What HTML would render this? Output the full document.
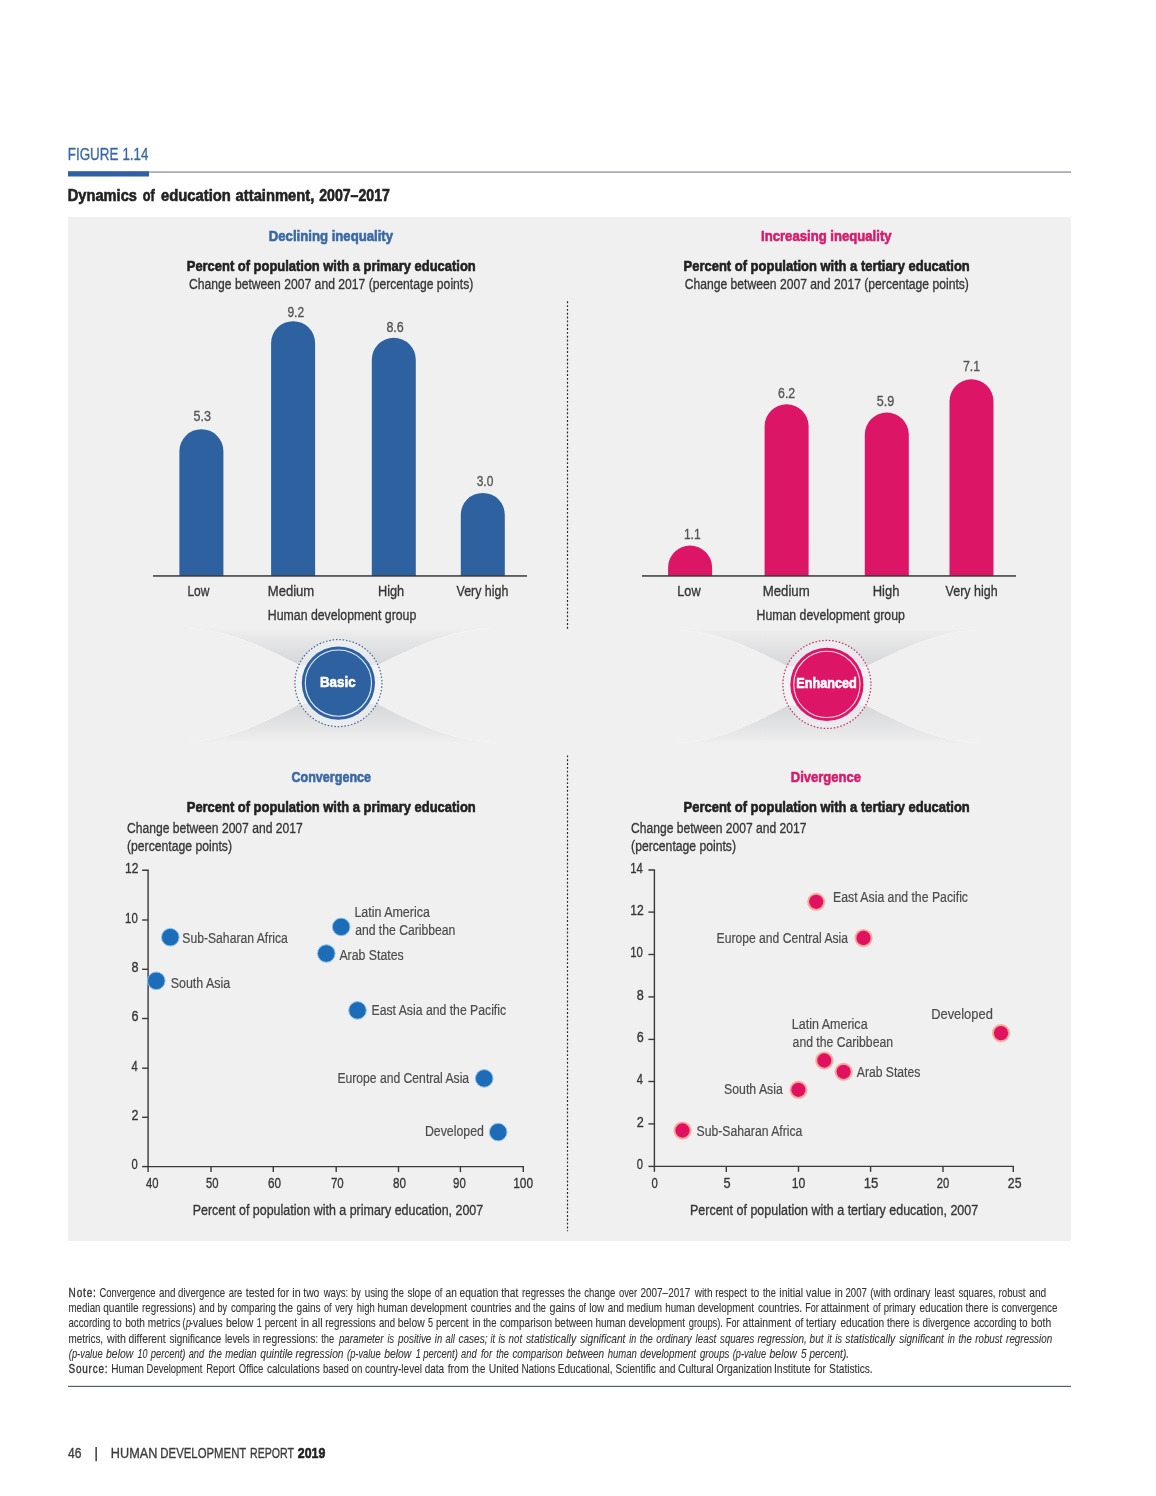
<!DOCTYPE html>
<html lang="en">
<head>
<meta charset="utf-8">
<title>Figure 1.14 - Dynamics of education attainment, 2007-2017</title>
<style>
html,body{margin:0;padding:0;background:#ffffff;}
body{width:1156px;height:1496px;overflow:hidden;}
svg{display:block;font-family:'Liberation Sans', Arial, sans-serif;}
text{white-space:pre;}
</style>
</head>
<body>
<svg width="1156" height="1496" viewBox="0 0 1156 1496">
<rect x="0" y="0" width="1156" height="1496" fill="#ffffff"/>
<text x="67.83" y="160.10" font-size="17.4" fill="#3a69a6" stroke="#3a69a6" stroke-width="0.34" textLength="50.53" lengthAdjust="spacingAndGlyphs">FIGURE</text>
<text x="122.43" y="160.10" font-size="17.4" fill="#3a69a6" stroke="#3a69a6" stroke-width="0.34" textLength="25.91" lengthAdjust="spacingAndGlyphs">1.14</text>
<rect x="68" y="171.3" width="1003" height="1.6" fill="#9fa5b1"/>
<rect x="68" y="171.3" width="81" height="5.2" fill="#2e619f"/>
<text x="67.79" y="200.90" font-size="16.1" fill="#222222" font-weight="700" stroke="#222222" stroke-width="0.6" textLength="69.16" lengthAdjust="spacingAndGlyphs">Dynamics</text>
<text x="142.70" y="200.90" font-size="16.1" fill="#222222" font-weight="700" stroke="#222222" stroke-width="0.6" textLength="11.99" lengthAdjust="spacingAndGlyphs">of</text>
<text x="160.90" y="200.90" font-size="16.1" fill="#222222" font-weight="700" stroke="#222222" stroke-width="0.6" textLength="69.96" lengthAdjust="spacingAndGlyphs">education</text>
<text x="235.60" y="200.90" font-size="16.1" fill="#222222" font-weight="700" stroke="#222222" stroke-width="0.6" textLength="78.73" lengthAdjust="spacingAndGlyphs">attainment,</text>
<text x="319.20" y="200.90" font-size="16.1" fill="#222222" font-weight="700" stroke="#222222" stroke-width="0.6" textLength="70.66" lengthAdjust="spacingAndGlyphs">2007–2017</text>
<rect x="68" y="217" width="1003" height="1024" fill="#f0f0f0"/>
<line x1="567.5" y1="301.3" x2="567.5" y2="628.9" stroke="#2a2a2a" stroke-width="1.2" stroke-dasharray="1.9 1.93"/>
<line x1="567.5" y1="755.4" x2="567.5" y2="1231.2" stroke="#2a2a2a" stroke-width="1.2" stroke-dasharray="1.9 1.93"/>
<text x="268.75" y="241.30" font-size="15.5" fill="#3a69a6" font-weight="700" stroke="#3a69a6" stroke-width="0.62" textLength="124.33" lengthAdjust="spacingAndGlyphs">Declining inequality</text>
<text x="761.05" y="241.30" font-size="15.5" fill="#d81b6c" font-weight="700" stroke="#d81b6c" stroke-width="0.62" textLength="130.53" lengthAdjust="spacingAndGlyphs">Increasing inequality</text>
<text x="186.77" y="271.00" font-size="15.5" fill="#222222" font-weight="700" stroke="#222222" stroke-width="0.62" textLength="288.93" lengthAdjust="spacingAndGlyphs">Percent of population with a primary education</text>
<text x="683.56" y="271.00" font-size="15.5" fill="#222222" font-weight="700" stroke="#222222" stroke-width="0.62" textLength="286.23" lengthAdjust="spacingAndGlyphs">Percent of population with a tertiary education</text>
<text x="189.00" y="289.20" font-size="15.5" fill="#363636" stroke="#363636" stroke-width="0.34" textLength="284.33" lengthAdjust="spacingAndGlyphs">Change between 2007 and 2017 (percentage points)</text>
<text x="684.70" y="289.20" font-size="15.5" fill="#363636" stroke="#363636" stroke-width="0.34" textLength="284.23" lengthAdjust="spacingAndGlyphs">Change between 2007 and 2017 (percentage points)</text>
<path d="M179.40,576.0 V451.19 A22.0,22.0 0 0 1 223.40,451.19 V576.0 Z" fill="#2e619f"/>
<path d="M271.10,576.0 V343.16 A22.0,22.0 0 0 1 315.10,343.16 V576.0 Z" fill="#2e619f"/>
<path d="M371.80,576.0 V359.78 A22.0,22.0 0 0 1 415.80,359.78 V576.0 Z" fill="#2e619f"/>
<path d="M460.80,576.0 V514.90 A22.0,22.0 0 0 1 504.80,514.90 V576.0 Z" fill="#2e619f"/>
<path d="M668.10,576.0 V567.53 A22.0,22.0 0 0 1 712.10,567.53 V576.0 Z" fill="#dc1566"/>
<path d="M764.60,576.0 V426.26 A22.0,22.0 0 0 1 808.60,426.26 V576.0 Z" fill="#dc1566"/>
<path d="M864.80,576.0 V434.57 A22.0,22.0 0 0 1 908.80,434.57 V576.0 Z" fill="#dc1566"/>
<path d="M949.50,576.0 V401.33 A22.0,22.0 0 0 1 993.50,401.33 V576.0 Z" fill="#dc1566"/>
<rect x="153" y="575.2" width="374" height="1.5" fill="#3a3a3a"/>
<rect x="642" y="575.2" width="374" height="1.5" fill="#3a3a3a"/>
<text x="193.60" y="421.10" font-size="15.5" fill="#555555" stroke="#555555" stroke-width="0.34" textLength="17.50" lengthAdjust="spacingAndGlyphs">5.3</text>
<text x="287.40" y="317.30" font-size="15.5" fill="#555555" stroke="#555555" stroke-width="0.34" textLength="16.78" lengthAdjust="spacingAndGlyphs">9.2</text>
<text x="386.40" y="332.20" font-size="15.5" fill="#555555" stroke="#555555" stroke-width="0.34" textLength="17.40" lengthAdjust="spacingAndGlyphs">8.6</text>
<text x="476.70" y="485.70" font-size="15.5" fill="#555555" stroke="#555555" stroke-width="0.34" textLength="16.61" lengthAdjust="spacingAndGlyphs">3.0</text>
<text x="683.92" y="539.30" font-size="15.5" fill="#555555" stroke="#555555" stroke-width="0.34" textLength="16.76" lengthAdjust="spacingAndGlyphs">1.1</text>
<text x="778.10" y="398.00" font-size="15.5" fill="#555555" stroke="#555555" stroke-width="0.34" textLength="17.09" lengthAdjust="spacingAndGlyphs">6.2</text>
<text x="876.70" y="406.30" font-size="15.5" fill="#555555" stroke="#555555" stroke-width="0.34" textLength="17.50" lengthAdjust="spacingAndGlyphs">5.9</text>
<text x="962.90" y="371.40" font-size="15.5" fill="#555555" stroke="#555555" stroke-width="0.34" textLength="17.09" lengthAdjust="spacingAndGlyphs">7.1</text>
<text x="187.42" y="596.00" font-size="15.5" fill="#363636" stroke="#363636" stroke-width="0.34" textLength="22.05" lengthAdjust="spacingAndGlyphs">Low</text>
<text x="267.76" y="596.00" font-size="15.5" fill="#363636" stroke="#363636" stroke-width="0.34" textLength="46.51" lengthAdjust="spacingAndGlyphs">Medium</text>
<text x="377.98" y="596.00" font-size="15.5" fill="#363636" stroke="#363636" stroke-width="0.34" textLength="26.23" lengthAdjust="spacingAndGlyphs">High</text>
<text x="456.60" y="596.00" font-size="15.5" fill="#363636" stroke="#363636" stroke-width="0.34" textLength="51.70" lengthAdjust="spacingAndGlyphs">Very high</text>
<text x="677.28" y="596.00" font-size="15.5" fill="#363636" stroke="#363636" stroke-width="0.34" textLength="23.36" lengthAdjust="spacingAndGlyphs">Low</text>
<text x="762.75" y="596.00" font-size="15.5" fill="#363636" stroke="#363636" stroke-width="0.34" textLength="46.93" lengthAdjust="spacingAndGlyphs">Medium</text>
<text x="872.76" y="596.00" font-size="15.5" fill="#363636" stroke="#363636" stroke-width="0.34" textLength="26.65" lengthAdjust="spacingAndGlyphs">High</text>
<text x="945.60" y="596.00" font-size="15.5" fill="#363636" stroke="#363636" stroke-width="0.34" textLength="52.00" lengthAdjust="spacingAndGlyphs">Very high</text>
<text x="267.81" y="620.00" font-size="15.5" fill="#363636" stroke="#363636" stroke-width="0.34" textLength="148.49" lengthAdjust="spacingAndGlyphs">Human development group</text>
<text x="756.51" y="620.00" font-size="15.5" fill="#363636" stroke="#363636" stroke-width="0.34" textLength="148.39" lengthAdjust="spacingAndGlyphs">Human development group</text>
<defs>
<linearGradient id="shT" x1="0" y1="-55" x2="0" y2="-17" gradientUnits="userSpaceOnUse">
<stop offset="0" stop-color="#d5d6d9" stop-opacity="0.04"/>
<stop offset="0.3" stop-color="#d5d6d9" stop-opacity="0.36"/>
<stop offset="1" stop-color="#d5d6d9" stop-opacity="1"/>
</linearGradient>
<linearGradient id="shB" x1="0" y1="59" x2="0" y2="19" gradientUnits="userSpaceOnUse">
<stop offset="0" stop-color="#d5d6d9" stop-opacity="0.04"/>
<stop offset="0.3" stop-color="#d5d6d9" stop-opacity="0.36"/>
<stop offset="1" stop-color="#d5d6d9" stop-opacity="1"/>
</linearGradient>
</defs>
<g transform="translate(338.4 683.1)">
<path d="M-150,-54.5 H152 C112,-53 77,-36 40,-18 H-40 C-75,-36 -110,-53 -150,-54.5 Z" fill="url(#shT)"/>
<path d="M-150,58.5 H152 C112,57 77,40 40,21 H-40 C-75,40 -110,57 -150,58.5 Z" fill="url(#shB)"/>
<path d="M-150,-54.5 C-110,-53 -75,-36 -40,-18 M152,-54.5 C112,-53 77,-36 40,-18 M-150,58.5 C-110,57 -75,40 -40,21 M152,58.5 C112,57 77,40 40,21" fill="none" stroke="#f4f4f4" stroke-width="1"/>
<circle r="43.5" fill="#f4f6fa" fill-opacity="0.5" stroke="#4a6b94" stroke-width="1.25" stroke-dasharray="1.5 1.87"/>
<circle r="36.6" fill="#2e619f"/>
<circle r="33.1" fill="none" stroke="#e4eeff" stroke-width="1.1"/>
</g>
<text x="319.94" y="687.00" font-size="15.5" fill="#ffffff" font-weight="700" stroke="#ffffff" stroke-width="0.62" textLength="35.63" lengthAdjust="spacingAndGlyphs">Basic</text>
<g transform="translate(826.9 684.4)">
<path d="M-150,-54.5 H152 C112,-53 77,-36 40,-18 H-40 C-75,-36 -110,-53 -150,-54.5 Z" fill="url(#shT)"/>
<path d="M-150,58.5 H152 C112,57 77,40 40,21 H-40 C-75,40 -110,57 -150,58.5 Z" fill="url(#shB)"/>
<path d="M-150,-54.5 C-110,-53 -75,-36 -40,-18 M152,-54.5 C112,-53 77,-36 40,-18 M-150,58.5 C-110,57 -75,40 -40,21 M152,58.5 C112,57 77,40 40,21" fill="none" stroke="#f4f4f4" stroke-width="1"/>
<circle r="44.0" fill="#f4f6fa" fill-opacity="0.5" stroke="#c8325e" stroke-width="1.25" stroke-dasharray="1.5 1.87"/>
<circle r="36.6" fill="#dc1566"/>
<circle r="33.1" fill="none" stroke="#ffdce8" stroke-width="1.1"/>
</g>
<text x="796.18" y="688.30" font-size="15.5" fill="#ffffff" font-weight="700" stroke="#ffffff" stroke-width="0.62" textLength="60.70" lengthAdjust="spacingAndGlyphs">Enhanced</text>
<text x="291.40" y="782.30" font-size="15.5" fill="#3a69a6" font-weight="700" stroke="#3a69a6" stroke-width="0.62" textLength="79.69" lengthAdjust="spacingAndGlyphs">Convergence</text>
<text x="790.76" y="782.30" font-size="15.5" fill="#d81b6c" font-weight="700" stroke="#d81b6c" stroke-width="0.62" textLength="70.32" lengthAdjust="spacingAndGlyphs">Divergence</text>
<text x="186.77" y="812.30" font-size="15.5" fill="#222222" font-weight="700" stroke="#222222" stroke-width="0.62" textLength="288.93" lengthAdjust="spacingAndGlyphs">Percent of population with a primary education</text>
<text x="683.56" y="812.30" font-size="15.5" fill="#222222" font-weight="700" stroke="#222222" stroke-width="0.62" textLength="286.23" lengthAdjust="spacingAndGlyphs">Percent of population with a tertiary education</text>
<text x="127.00" y="833.00" font-size="15.5" fill="#363636" stroke="#363636" stroke-width="0.34" textLength="175.68" lengthAdjust="spacingAndGlyphs">Change between 2007 and 2017</text>
<text x="127.00" y="850.80" font-size="15.5" fill="#363636" stroke="#363636" stroke-width="0.34" textLength="105.03" lengthAdjust="spacingAndGlyphs">(percentage points)</text>
<text x="631.10" y="833.00" font-size="15.5" fill="#363636" stroke="#363636" stroke-width="0.34" textLength="175.28" lengthAdjust="spacingAndGlyphs">Change between 2007 and 2017</text>
<text x="631.10" y="850.80" font-size="15.5" fill="#363636" stroke="#363636" stroke-width="0.34" textLength="104.93" lengthAdjust="spacingAndGlyphs">(percentage points)</text>
<path d="M142.10,870.20 H148.10 V1166.60 H523.90" fill="none" stroke="#3a3a3a" stroke-width="1.4"/>
<line x1="142.10" y1="920.00" x2="148.10" y2="920.00" stroke="#3a3a3a" stroke-width="1.4"/>
<line x1="142.10" y1="969.30" x2="148.10" y2="969.30" stroke="#3a3a3a" stroke-width="1.4"/>
<line x1="142.10" y1="1018.50" x2="148.10" y2="1018.50" stroke="#3a3a3a" stroke-width="1.4"/>
<line x1="142.10" y1="1068.20" x2="148.10" y2="1068.20" stroke="#3a3a3a" stroke-width="1.4"/>
<line x1="142.10" y1="1117.30" x2="148.10" y2="1117.30" stroke="#3a3a3a" stroke-width="1.4"/>
<line x1="142.10" y1="1166.60" x2="148.10" y2="1166.60" stroke="#3a3a3a" stroke-width="1.4"/>
<line x1="148.10" y1="1166.60" x2="148.10" y2="1172.10" stroke="#3a3a3a" stroke-width="1.4"/>
<line x1="211.00" y1="1166.60" x2="211.00" y2="1172.10" stroke="#3a3a3a" stroke-width="1.4"/>
<line x1="273.30" y1="1166.60" x2="273.30" y2="1172.10" stroke="#3a3a3a" stroke-width="1.4"/>
<line x1="336.20" y1="1166.60" x2="336.20" y2="1172.10" stroke="#3a3a3a" stroke-width="1.4"/>
<line x1="398.50" y1="1166.60" x2="398.50" y2="1172.10" stroke="#3a3a3a" stroke-width="1.4"/>
<line x1="460.40" y1="1166.60" x2="460.40" y2="1172.10" stroke="#3a3a3a" stroke-width="1.4"/>
<line x1="523.30" y1="1166.60" x2="523.30" y2="1172.10" stroke="#3a3a3a" stroke-width="1.4"/>
<text x="145.90" y="1188.20" font-size="15.5" fill="#363636" stroke="#363636" stroke-width="0.34" textLength="12.52" lengthAdjust="spacingAndGlyphs">40</text>
<text x="206.10" y="1188.20" font-size="15.5" fill="#363636" stroke="#363636" stroke-width="0.34" textLength="12.52" lengthAdjust="spacingAndGlyphs">50</text>
<text x="268.00" y="1188.20" font-size="15.5" fill="#363636" stroke="#363636" stroke-width="0.34" textLength="13.01" lengthAdjust="spacingAndGlyphs">60</text>
<text x="330.90" y="1188.20" font-size="15.5" fill="#363636" stroke="#363636" stroke-width="0.34" textLength="12.72" lengthAdjust="spacingAndGlyphs">70</text>
<text x="392.90" y="1188.20" font-size="15.5" fill="#363636" stroke="#363636" stroke-width="0.34" textLength="13.01" lengthAdjust="spacingAndGlyphs">80</text>
<text x="453.10" y="1188.20" font-size="15.5" fill="#363636" stroke="#363636" stroke-width="0.34" textLength="12.72" lengthAdjust="spacingAndGlyphs">90</text>
<text x="513.23" y="1188.20" font-size="15.5" fill="#363636" stroke="#363636" stroke-width="0.34" textLength="19.88" lengthAdjust="spacingAndGlyphs">100</text>
<text x="125.02" y="873.00" font-size="15.5" fill="#363636" stroke="#363636" stroke-width="0.34" textLength="13.47" lengthAdjust="spacingAndGlyphs">12</text>
<text x="125.07" y="922.80" font-size="15.5" fill="#363636" stroke="#363636" stroke-width="0.34" textLength="12.66" lengthAdjust="spacingAndGlyphs">10</text>
<text x="131.50" y="972.10" font-size="15.5" fill="#363636" stroke="#363636" stroke-width="0.34" textLength="7.00" lengthAdjust="spacingAndGlyphs">8</text>
<text x="131.50" y="1021.30" font-size="15.5" fill="#363636" stroke="#363636" stroke-width="0.34" textLength="7.00" lengthAdjust="spacingAndGlyphs">6</text>
<text x="131.50" y="1071.00" font-size="15.5" fill="#363636" stroke="#363636" stroke-width="0.34" textLength="6.23" lengthAdjust="spacingAndGlyphs">4</text>
<text x="131.50" y="1120.10" font-size="15.5" fill="#363636" stroke="#363636" stroke-width="0.34" textLength="7.00" lengthAdjust="spacingAndGlyphs">2</text>
<text x="131.50" y="1169.40" font-size="15.5" fill="#363636" stroke="#363636" stroke-width="0.34" textLength="6.23" lengthAdjust="spacingAndGlyphs">0</text>
<path d="M648.40,870.00 H654.40 V1166.40 H1013.90" fill="none" stroke="#3a3a3a" stroke-width="1.4"/>
<line x1="648.40" y1="912.10" x2="654.40" y2="912.10" stroke="#3a3a3a" stroke-width="1.4"/>
<line x1="648.40" y1="954.50" x2="654.40" y2="954.50" stroke="#3a3a3a" stroke-width="1.4"/>
<line x1="648.40" y1="996.90" x2="654.40" y2="996.90" stroke="#3a3a3a" stroke-width="1.4"/>
<line x1="648.40" y1="1039.40" x2="654.40" y2="1039.40" stroke="#3a3a3a" stroke-width="1.4"/>
<line x1="648.40" y1="1081.50" x2="654.40" y2="1081.50" stroke="#3a3a3a" stroke-width="1.4"/>
<line x1="648.40" y1="1123.90" x2="654.40" y2="1123.90" stroke="#3a3a3a" stroke-width="1.4"/>
<line x1="648.40" y1="1166.40" x2="654.40" y2="1166.40" stroke="#3a3a3a" stroke-width="1.4"/>
<line x1="654.40" y1="1166.40" x2="654.40" y2="1171.90" stroke="#3a3a3a" stroke-width="1.4"/>
<line x1="726.30" y1="1166.40" x2="726.30" y2="1171.90" stroke="#3a3a3a" stroke-width="1.4"/>
<line x1="798.50" y1="1166.40" x2="798.50" y2="1171.90" stroke="#3a3a3a" stroke-width="1.4"/>
<line x1="870.60" y1="1166.40" x2="870.60" y2="1171.90" stroke="#3a3a3a" stroke-width="1.4"/>
<line x1="943.00" y1="1166.40" x2="943.00" y2="1171.90" stroke="#3a3a3a" stroke-width="1.4"/>
<line x1="1013.30" y1="1166.40" x2="1013.30" y2="1171.90" stroke="#3a3a3a" stroke-width="1.4"/>
<text x="651.60" y="1188.00" font-size="15.5" fill="#363636" stroke="#363636" stroke-width="0.34" textLength="6.32" lengthAdjust="spacingAndGlyphs">0</text>
<text x="723.60" y="1188.00" font-size="15.5" fill="#363636" stroke="#363636" stroke-width="0.34" textLength="7.11" lengthAdjust="spacingAndGlyphs">5</text>
<text x="791.81" y="1188.00" font-size="15.5" fill="#363636" stroke="#363636" stroke-width="0.34" textLength="13.59" lengthAdjust="spacingAndGlyphs">10</text>
<text x="863.75" y="1188.00" font-size="15.5" fill="#363636" stroke="#363636" stroke-width="0.34" textLength="14.68" lengthAdjust="spacingAndGlyphs">15</text>
<text x="936.80" y="1188.00" font-size="15.5" fill="#363636" stroke="#363636" stroke-width="0.34" textLength="12.52" lengthAdjust="spacingAndGlyphs">20</text>
<text x="1007.80" y="1188.00" font-size="15.5" fill="#363636" stroke="#363636" stroke-width="0.34" textLength="13.69" lengthAdjust="spacingAndGlyphs">25</text>
<text x="630.27" y="872.80" font-size="15.5" fill="#363636" stroke="#363636" stroke-width="0.34" textLength="12.66" lengthAdjust="spacingAndGlyphs">14</text>
<text x="630.22" y="914.90" font-size="15.5" fill="#363636" stroke="#363636" stroke-width="0.34" textLength="13.47" lengthAdjust="spacingAndGlyphs">12</text>
<text x="630.27" y="957.30" font-size="15.5" fill="#363636" stroke="#363636" stroke-width="0.34" textLength="12.66" lengthAdjust="spacingAndGlyphs">10</text>
<text x="636.70" y="999.70" font-size="15.5" fill="#363636" stroke="#363636" stroke-width="0.34" textLength="7.00" lengthAdjust="spacingAndGlyphs">8</text>
<text x="636.70" y="1042.20" font-size="15.5" fill="#363636" stroke="#363636" stroke-width="0.34" textLength="7.00" lengthAdjust="spacingAndGlyphs">6</text>
<text x="636.70" y="1084.30" font-size="15.5" fill="#363636" stroke="#363636" stroke-width="0.34" textLength="6.23" lengthAdjust="spacingAndGlyphs">4</text>
<text x="636.70" y="1126.70" font-size="15.5" fill="#363636" stroke="#363636" stroke-width="0.34" textLength="7.00" lengthAdjust="spacingAndGlyphs">2</text>
<text x="636.70" y="1169.20" font-size="15.5" fill="#363636" stroke="#363636" stroke-width="0.34" textLength="6.23" lengthAdjust="spacingAndGlyphs">0</text>
<text x="192.70" y="1214.60" font-size="15.5" fill="#363636" stroke="#363636" stroke-width="0.34" textLength="290.50" lengthAdjust="spacingAndGlyphs">Percent of population with a primary education, 2007</text>
<text x="689.99" y="1214.60" font-size="15.5" fill="#363636" stroke="#363636" stroke-width="0.34" textLength="288.21" lengthAdjust="spacingAndGlyphs">Percent of population with a tertiary education, 2007</text>
<circle cx="170.3" cy="937.2" r="8.8" fill="#1c6cb8" stroke="#8cc4ee" stroke-width="1.0"/>
<circle cx="156.3" cy="980.8" r="8.8" fill="#1c6cb8" stroke="#8cc4ee" stroke-width="1.0"/>
<circle cx="326.3" cy="953.5" r="8.8" fill="#1c6cb8" stroke="#8cc4ee" stroke-width="1.0"/>
<circle cx="341.2" cy="926.9" r="8.8" fill="#1c6cb8" stroke="#8cc4ee" stroke-width="1.0"/>
<circle cx="357.5" cy="1010.4" r="8.8" fill="#1c6cb8" stroke="#8cc4ee" stroke-width="1.0"/>
<circle cx="484.2" cy="1078.4" r="8.8" fill="#1c6cb8" stroke="#8cc4ee" stroke-width="1.0"/>
<circle cx="498.2" cy="1132.1" r="8.8" fill="#1c6cb8" stroke="#8cc4ee" stroke-width="1.0"/>
<circle cx="816.2" cy="901.8" r="8.1" fill="#e0125f" stroke="#f9a99d" stroke-width="1.9"/>
<circle cx="863.5" cy="938.0" r="8.1" fill="#e0125f" stroke="#f9a99d" stroke-width="1.9"/>
<circle cx="1001.0" cy="1033.1" r="8.1" fill="#e0125f" stroke="#f9a99d" stroke-width="1.9"/>
<circle cx="824.3" cy="1060.5" r="8.1" fill="#e0125f" stroke="#f9a99d" stroke-width="1.9"/>
<circle cx="843.6" cy="1071.8" r="8.1" fill="#e0125f" stroke="#f9a99d" stroke-width="1.9"/>
<circle cx="798.4" cy="1089.8" r="8.1" fill="#e0125f" stroke="#f9a99d" stroke-width="1.9"/>
<circle cx="682.5" cy="1130.5" r="8.1" fill="#e0125f" stroke="#f9a99d" stroke-width="1.9"/>
<text x="182.30" y="942.60" font-size="15.5" fill="#4c4c4c" stroke="#4c4c4c" stroke-width="0.2" textLength="105.50" lengthAdjust="spacingAndGlyphs">Sub-Saharan Africa</text>
<text x="170.70" y="987.60" font-size="15.5" fill="#4c4c4c" stroke="#4c4c4c" stroke-width="0.2" textLength="59.40" lengthAdjust="spacingAndGlyphs">South Asia</text>
<text x="354.40" y="916.80" font-size="15.5" fill="#4c4c4c" stroke="#4c4c4c" stroke-width="0.2" textLength="75.49" lengthAdjust="spacingAndGlyphs">Latin America</text>
<text x="355.20" y="934.90" font-size="15.5" fill="#4c4c4c" stroke="#4c4c4c" stroke-width="0.2" textLength="100.09" lengthAdjust="spacingAndGlyphs">and the Caribbean</text>
<text x="339.40" y="959.70" font-size="15.5" fill="#4c4c4c" stroke="#4c4c4c" stroke-width="0.2" textLength="64.30" lengthAdjust="spacingAndGlyphs">Arab States</text>
<text x="371.52" y="1014.90" font-size="15.5" fill="#4c4c4c" stroke="#4c4c4c" stroke-width="0.2" textLength="134.59" lengthAdjust="spacingAndGlyphs">East Asia and the Pacific</text>
<text x="337.42" y="1082.70" font-size="15.5" fill="#4c4c4c" stroke="#4c4c4c" stroke-width="0.2" textLength="131.68" lengthAdjust="spacingAndGlyphs">Europe and Central Asia</text>
<text x="424.90" y="1135.90" font-size="15.5" fill="#4c4c4c" stroke="#4c4c4c" stroke-width="0.2" textLength="58.99" lengthAdjust="spacingAndGlyphs">Developed</text>
<text x="833.11" y="901.80" font-size="15.5" fill="#4c4c4c" stroke="#4c4c4c" stroke-width="0.2" textLength="134.89" lengthAdjust="spacingAndGlyphs">East Asia and the Pacific</text>
<text x="716.62" y="942.50" font-size="15.5" fill="#4c4c4c" stroke="#4c4c4c" stroke-width="0.2" textLength="131.38" lengthAdjust="spacingAndGlyphs">Europe and Central Asia</text>
<text x="931.17" y="1019.30" font-size="15.5" fill="#4c4c4c" stroke="#4c4c4c" stroke-width="0.2" textLength="61.65" lengthAdjust="spacingAndGlyphs">Developed</text>
<text x="791.80" y="1028.90" font-size="15.5" fill="#4c4c4c" stroke="#4c4c4c" stroke-width="0.2" textLength="75.80" lengthAdjust="spacingAndGlyphs">Latin America</text>
<text x="792.60" y="1046.90" font-size="15.5" fill="#4c4c4c" stroke="#4c4c4c" stroke-width="0.2" textLength="100.39" lengthAdjust="spacingAndGlyphs">and the Caribbean</text>
<text x="856.80" y="1076.50" font-size="15.5" fill="#4c4c4c" stroke="#4c4c4c" stroke-width="0.2" textLength="63.50" lengthAdjust="spacingAndGlyphs">Arab States</text>
<text x="724.10" y="1094.10" font-size="15.5" fill="#4c4c4c" stroke="#4c4c4c" stroke-width="0.2" textLength="58.70" lengthAdjust="spacingAndGlyphs">South Asia</text>
<text x="696.60" y="1136.00" font-size="15.5" fill="#4c4c4c" stroke="#4c4c4c" stroke-width="0.2" textLength="105.80" lengthAdjust="spacingAndGlyphs">Sub-Saharan Africa</text>
<text transform="translate(68.60 1296.80) scale(0.8255 1)" font-size="12.1" fill="#333333" stroke="#333333" stroke-width="0.35" letter-spacing="1.041">Note:</text>
<text x="99.40" y="1296.80" font-size="12.1" fill="#333333" stroke="#333333" stroke-width="0.1" textLength="56.09" lengthAdjust="spacingAndGlyphs">Convergence</text>
<text x="159.00" y="1296.80" font-size="12.1" fill="#333333" stroke="#333333" stroke-width="0.1" textLength="16.39" lengthAdjust="spacingAndGlyphs">and</text>
<text x="178.10" y="1296.80" font-size="12.1" fill="#333333" stroke="#333333" stroke-width="0.1" textLength="47.08" lengthAdjust="spacingAndGlyphs">divergence</text>
<text x="228.70" y="1296.80" font-size="12.1" fill="#333333" stroke="#333333" stroke-width="0.1" textLength="13.59" lengthAdjust="spacingAndGlyphs">are</text>
<text x="245.80" y="1296.80" font-size="12.1" fill="#333333" stroke="#333333" stroke-width="0.1" textLength="28.84" lengthAdjust="spacingAndGlyphs">tested</text>
<text x="277.30" y="1296.80" font-size="12.1" fill="#333333" stroke="#333333" stroke-width="0.1" textLength="11.72" lengthAdjust="spacingAndGlyphs">for</text>
<text x="292.30" y="1296.80" font-size="12.1" fill="#333333" stroke="#333333" stroke-width="0.1" textLength="8.34" lengthAdjust="spacingAndGlyphs">in</text>
<text x="303.30" y="1296.80" font-size="12.1" fill="#333333" stroke="#333333" stroke-width="0.1" textLength="16.07" lengthAdjust="spacingAndGlyphs">two</text>
<text x="323.69" y="1296.80" font-size="12.1" fill="#333333" stroke="#333333" stroke-width="0.1" textLength="24.49" lengthAdjust="spacingAndGlyphs">ways:</text>
<text x="351.20" y="1296.80" font-size="12.1" fill="#333333" stroke="#333333" stroke-width="0.1" textLength="9.49" lengthAdjust="spacingAndGlyphs">by</text>
<text x="364.70" y="1296.80" font-size="12.1" fill="#333333" stroke="#333333" stroke-width="0.1" textLength="23.59" lengthAdjust="spacingAndGlyphs">using</text>
<text x="391.00" y="1296.80" font-size="12.1" fill="#333333" stroke="#333333" stroke-width="0.1" textLength="12.89" lengthAdjust="spacingAndGlyphs">the</text>
<text x="407.40" y="1296.80" font-size="12.1" fill="#333333" stroke="#333333" stroke-width="0.1" textLength="23.87" lengthAdjust="spacingAndGlyphs">slope</text>
<text x="434.80" y="1296.80" font-size="12.1" fill="#333333" stroke="#333333" stroke-width="0.1" textLength="7.49" lengthAdjust="spacingAndGlyphs">of</text>
<text x="445.60" y="1296.80" font-size="12.1" fill="#333333" stroke="#333333" stroke-width="0.1" textLength="11.31" lengthAdjust="spacingAndGlyphs">an</text>
<text x="459.60" y="1296.80" font-size="12.1" fill="#333333" stroke="#333333" stroke-width="0.1" textLength="38.91" lengthAdjust="spacingAndGlyphs">equation</text>
<text x="501.20" y="1296.80" font-size="12.1" fill="#333333" stroke="#333333" stroke-width="0.1" textLength="17.06" lengthAdjust="spacingAndGlyphs">that</text>
<text x="522.10" y="1296.80" font-size="12.1" fill="#333333" stroke="#333333" stroke-width="0.1" textLength="42.54" lengthAdjust="spacingAndGlyphs">regresses</text>
<text x="567.90" y="1296.80" font-size="12.1" fill="#333333" stroke="#333333" stroke-width="0.1" textLength="12.89" lengthAdjust="spacingAndGlyphs">the</text>
<text x="584.30" y="1296.80" font-size="12.1" fill="#333333" stroke="#333333" stroke-width="0.1" textLength="31.09" lengthAdjust="spacingAndGlyphs">change</text>
<text x="618.90" y="1296.80" font-size="12.1" fill="#333333" stroke="#333333" stroke-width="0.1" textLength="18.32" lengthAdjust="spacingAndGlyphs">over</text>
<text x="640.50" y="1296.80" font-size="12.1" fill="#333333" stroke="#333333" stroke-width="0.1" textLength="49.77" lengthAdjust="spacingAndGlyphs">2007–2017</text>
<text x="694.63" y="1296.80" font-size="12.1" fill="#333333" stroke="#333333" stroke-width="0.1" textLength="17.87" lengthAdjust="spacingAndGlyphs">with</text>
<text x="715.20" y="1296.80" font-size="12.1" fill="#333333" stroke="#333333" stroke-width="0.1" textLength="31.69" lengthAdjust="spacingAndGlyphs">respect</text>
<text x="750.70" y="1296.80" font-size="12.1" fill="#333333" stroke="#333333" stroke-width="0.1" textLength="8.66" lengthAdjust="spacingAndGlyphs">to</text>
<text x="762.90" y="1296.80" font-size="12.1" fill="#333333" stroke="#333333" stroke-width="0.1" textLength="12.89" lengthAdjust="spacingAndGlyphs">the</text>
<text x="779.30" y="1296.80" font-size="12.1" fill="#333333" stroke="#333333" stroke-width="0.1" textLength="51.86" lengthAdjust="spacingAndGlyphs">initial value</text>
<text x="834.70" y="1296.80" font-size="12.1" fill="#333333" stroke="#333333" stroke-width="0.1" textLength="8.13" lengthAdjust="spacingAndGlyphs">in</text>
<text x="845.50" y="1296.80" font-size="12.1" fill="#333333" stroke="#333333" stroke-width="0.1" textLength="21.28" lengthAdjust="spacingAndGlyphs">2007</text>
<text x="870.30" y="1296.80" font-size="12.1" fill="#333333" stroke="#333333" stroke-width="0.1" textLength="20.69" lengthAdjust="spacingAndGlyphs">(with</text>
<text x="893.70" y="1296.80" font-size="12.1" fill="#333333" stroke="#333333" stroke-width="0.1" textLength="36.60" lengthAdjust="spacingAndGlyphs">ordinary</text>
<text x="934.40" y="1296.80" font-size="12.1" fill="#333333" stroke="#333333" stroke-width="0.1" textLength="20.19" lengthAdjust="spacingAndGlyphs">least</text>
<text x="958.40" y="1296.80" font-size="12.1" fill="#333333" stroke="#333333" stroke-width="0.1" textLength="37.09" lengthAdjust="spacingAndGlyphs">squares,</text>
<text x="998.50" y="1296.80" font-size="12.1" fill="#333333" stroke="#333333" stroke-width="0.1" textLength="26.99" lengthAdjust="spacingAndGlyphs">robust</text>
<text x="1029.30" y="1296.80" font-size="12.1" fill="#333333" stroke="#333333" stroke-width="0.1" textLength="16.91" lengthAdjust="spacingAndGlyphs">and</text>
<text x="68.50" y="1312.00" font-size="12.1" fill="#333333" stroke="#333333" stroke-width="0.1" textLength="31.99" lengthAdjust="spacingAndGlyphs">median</text>
<text x="103.20" y="1312.00" font-size="12.1" fill="#333333" stroke="#333333" stroke-width="0.1" textLength="35.37" lengthAdjust="spacingAndGlyphs">quantile</text>
<text x="142.10" y="1312.00" font-size="12.1" fill="#333333" stroke="#333333" stroke-width="0.1" textLength="53.62" lengthAdjust="spacingAndGlyphs">regressions)</text>
<text x="199.00" y="1312.00" font-size="12.1" fill="#333333" stroke="#333333" stroke-width="0.1" textLength="15.66" lengthAdjust="spacingAndGlyphs">and</text>
<text x="217.40" y="1312.00" font-size="12.1" fill="#333333" stroke="#333333" stroke-width="0.1" textLength="9.49" lengthAdjust="spacingAndGlyphs">by</text>
<text x="230.90" y="1312.00" font-size="12.1" fill="#333333" stroke="#333333" stroke-width="0.1" textLength="44.98" lengthAdjust="spacingAndGlyphs">comparing</text>
<text x="278.60" y="1312.00" font-size="12.1" fill="#333333" stroke="#333333" stroke-width="0.1" textLength="14.46" lengthAdjust="spacingAndGlyphs">the</text>
<text x="296.60" y="1312.00" font-size="12.1" fill="#333333" stroke="#333333" stroke-width="0.1" textLength="24.04" lengthAdjust="spacingAndGlyphs">gains</text>
<text x="323.90" y="1312.00" font-size="12.1" fill="#333333" stroke="#333333" stroke-width="0.1" textLength="7.52" lengthAdjust="spacingAndGlyphs">of</text>
<text x="335.20" y="1312.00" font-size="12.1" fill="#333333" stroke="#333333" stroke-width="0.1" textLength="17.57" lengthAdjust="spacingAndGlyphs">very</text>
<text x="356.80" y="1312.00" font-size="12.1" fill="#333333" stroke="#333333" stroke-width="0.1" textLength="17.97" lengthAdjust="spacingAndGlyphs">high</text>
<text x="377.50" y="1312.00" font-size="12.1" fill="#333333" stroke="#333333" stroke-width="0.1" textLength="30.29" lengthAdjust="spacingAndGlyphs">human</text>
<text x="410.50" y="1312.00" font-size="12.1" fill="#333333" stroke="#333333" stroke-width="0.1" textLength="56.48" lengthAdjust="spacingAndGlyphs">development</text>
<text x="470.80" y="1312.00" font-size="12.1" fill="#333333" stroke="#333333" stroke-width="0.1" textLength="40.64" lengthAdjust="spacingAndGlyphs">countries</text>
<text x="514.70" y="1312.00" font-size="12.1" fill="#333333" stroke="#333333" stroke-width="0.1" textLength="15.66" lengthAdjust="spacingAndGlyphs">and</text>
<text x="533.10" y="1312.00" font-size="12.1" fill="#333333" stroke="#333333" stroke-width="0.1" textLength="12.89" lengthAdjust="spacingAndGlyphs">the</text>
<text x="549.50" y="1312.00" font-size="12.1" fill="#333333" stroke="#333333" stroke-width="0.1" textLength="25.64" lengthAdjust="spacingAndGlyphs">gains</text>
<text x="578.40" y="1312.00" font-size="12.1" fill="#333333" stroke="#333333" stroke-width="0.1" textLength="7.49" lengthAdjust="spacingAndGlyphs">of</text>
<text x="589.20" y="1312.00" font-size="12.1" fill="#333333" stroke="#333333" stroke-width="0.1" textLength="14.98" lengthAdjust="spacingAndGlyphs">low</text>
<text x="607.70" y="1312.00" font-size="12.1" fill="#333333" stroke="#333333" stroke-width="0.1" textLength="16.39" lengthAdjust="spacingAndGlyphs">and</text>
<text x="626.80" y="1312.00" font-size="12.1" fill="#333333" stroke="#333333" stroke-width="0.1" textLength="35.26" lengthAdjust="spacingAndGlyphs">medium</text>
<text x="665.30" y="1312.00" font-size="12.1" fill="#333333" stroke="#333333" stroke-width="0.1" textLength="29.68" lengthAdjust="spacingAndGlyphs">human</text>
<text x="697.70" y="1312.00" font-size="12.1" fill="#333333" stroke="#333333" stroke-width="0.1" textLength="56.38" lengthAdjust="spacingAndGlyphs">development</text>
<text x="757.90" y="1312.00" font-size="12.1" fill="#333333" stroke="#333333" stroke-width="0.1" textLength="44.30" lengthAdjust="spacingAndGlyphs">countries.</text>
<text x="805.20" y="1312.00" font-size="12.1" fill="#333333" stroke="#333333" stroke-width="0.1" textLength="13.48" lengthAdjust="spacingAndGlyphs">For</text>
<text x="820.80" y="1312.00" font-size="12.1" fill="#333333" stroke="#333333" stroke-width="0.1" textLength="48.35" lengthAdjust="spacingAndGlyphs">attainment</text>
<text x="873.00" y="1312.00" font-size="12.1" fill="#333333" stroke="#333333" stroke-width="0.1" textLength="7.49" lengthAdjust="spacingAndGlyphs">of</text>
<text x="883.80" y="1312.00" font-size="12.1" fill="#333333" stroke="#333333" stroke-width="0.1" textLength="31.65" lengthAdjust="spacingAndGlyphs">primary</text>
<text x="919.50" y="1312.00" font-size="12.1" fill="#333333" stroke="#333333" stroke-width="0.1" textLength="43.40" lengthAdjust="spacingAndGlyphs">education</text>
<text x="965.60" y="1312.00" font-size="12.1" fill="#333333" stroke="#333333" stroke-width="0.1" textLength="22.58" lengthAdjust="spacingAndGlyphs">there</text>
<text x="991.70" y="1312.00" font-size="12.1" fill="#333333" stroke="#333333" stroke-width="0.1" textLength="6.64" lengthAdjust="spacingAndGlyphs">is</text>
<text x="1001.60" y="1312.00" font-size="12.1" fill="#333333" stroke="#333333" stroke-width="0.1" textLength="55.78" lengthAdjust="spacingAndGlyphs">convergence</text>
<text x="68.50" y="1327.20" font-size="12.1" fill="#333333" stroke="#333333" stroke-width="0.1" textLength="41.88" lengthAdjust="spacingAndGlyphs">according</text>
<text x="113.10" y="1327.20" font-size="12.1" fill="#333333" stroke="#333333" stroke-width="0.1" textLength="8.57" lengthAdjust="spacingAndGlyphs">to</text>
<text x="125.20" y="1327.20" font-size="12.1" fill="#333333" stroke="#333333" stroke-width="0.1" textLength="19.81" lengthAdjust="spacingAndGlyphs">both</text>
<text x="147.70" y="1327.20" font-size="12.1" fill="#333333" stroke="#333333" stroke-width="0.1" textLength="32.64" lengthAdjust="spacingAndGlyphs">metrics</text>
<text x="182.40" y="1327.20" font-size="12.1" fill="#333333" stroke="#333333" stroke-width="0.1" textLength="2.99" lengthAdjust="spacingAndGlyphs">(</text>
<text x="186.04" y="1327.20" font-size="12.1" fill="#333333" font-style="italic" stroke="#333333" stroke-width="0.1" textLength="5.00" lengthAdjust="spacingAndGlyphs">p</text>
<text x="189.60" y="1327.20" font-size="12.1" fill="#333333" stroke="#333333" stroke-width="0.1" textLength="33.14" lengthAdjust="spacingAndGlyphs">-values</text>
<text x="226.00" y="1327.20" font-size="12.1" fill="#333333" stroke="#333333" stroke-width="0.1" textLength="27.27" lengthAdjust="spacingAndGlyphs">below</text>
<text x="256.80" y="1327.20" font-size="12.1" fill="#333333" stroke="#333333" stroke-width="0.1" textLength="5.00" lengthAdjust="spacingAndGlyphs">1</text>
<text x="264.70" y="1327.20" font-size="12.1" fill="#333333" stroke="#333333" stroke-width="0.1" textLength="32.19" lengthAdjust="spacingAndGlyphs">percent</text>
<text x="300.70" y="1327.20" font-size="12.1" fill="#333333" stroke="#333333" stroke-width="0.1" textLength="8.45" lengthAdjust="spacingAndGlyphs">in</text>
<text x="311.80" y="1327.20" font-size="12.1" fill="#333333" stroke="#333333" stroke-width="0.1" textLength="10.81" lengthAdjust="spacingAndGlyphs">all</text>
<text x="325.30" y="1327.20" font-size="12.1" fill="#333333" stroke="#333333" stroke-width="0.1" textLength="50.44" lengthAdjust="spacingAndGlyphs">regressions</text>
<text x="379.00" y="1327.20" font-size="12.1" fill="#333333" stroke="#333333" stroke-width="0.1" textLength="15.97" lengthAdjust="spacingAndGlyphs">and</text>
<text x="397.70" y="1327.20" font-size="12.1" fill="#333333" stroke="#333333" stroke-width="0.1" textLength="26.87" lengthAdjust="spacingAndGlyphs">below</text>
<text x="428.10" y="1327.20" font-size="12.1" fill="#333333" stroke="#333333" stroke-width="0.1" textLength="5.00" lengthAdjust="spacingAndGlyphs">5</text>
<text x="436.00" y="1327.20" font-size="12.1" fill="#333333" stroke="#333333" stroke-width="0.1" textLength="32.58" lengthAdjust="spacingAndGlyphs">percent</text>
<text x="472.40" y="1327.20" font-size="12.1" fill="#333333" stroke="#333333" stroke-width="0.1" textLength="8.13" lengthAdjust="spacingAndGlyphs">in</text>
<text x="483.20" y="1327.20" font-size="12.1" fill="#333333" stroke="#333333" stroke-width="0.1" textLength="13.28" lengthAdjust="spacingAndGlyphs">the</text>
<text x="500.00" y="1327.20" font-size="12.1" fill="#333333" stroke="#333333" stroke-width="0.1" textLength="92.80" lengthAdjust="spacingAndGlyphs">comparison between</text>
<text x="595.50" y="1327.20" font-size="12.1" fill="#333333" stroke="#333333" stroke-width="0.1" textLength="30.40" lengthAdjust="spacingAndGlyphs">human</text>
<text x="628.60" y="1327.20" font-size="12.1" fill="#333333" stroke="#333333" stroke-width="0.1" textLength="56.28" lengthAdjust="spacingAndGlyphs">development</text>
<text x="688.70" y="1327.20" font-size="12.1" fill="#333333" stroke="#333333" stroke-width="0.1" textLength="34.28" lengthAdjust="spacingAndGlyphs">groups).</text>
<text x="726.00" y="1327.20" font-size="12.1" fill="#333333" stroke="#333333" stroke-width="0.1" textLength="13.48" lengthAdjust="spacingAndGlyphs">For</text>
<text x="742.60" y="1327.20" font-size="12.1" fill="#333333" stroke="#333333" stroke-width="0.1" textLength="48.55" lengthAdjust="spacingAndGlyphs">attainment</text>
<text x="795.00" y="1327.20" font-size="12.1" fill="#333333" stroke="#333333" stroke-width="0.1" textLength="41.32" lengthAdjust="spacingAndGlyphs">of tertiary</text>
<text x="840.40" y="1327.20" font-size="12.1" fill="#333333" stroke="#333333" stroke-width="0.1" textLength="43.81" lengthAdjust="spacingAndGlyphs">education</text>
<text x="886.90" y="1327.20" font-size="12.1" fill="#333333" stroke="#333333" stroke-width="0.1" textLength="22.58" lengthAdjust="spacingAndGlyphs">there</text>
<text x="913.00" y="1327.20" font-size="12.1" fill="#333333" stroke="#333333" stroke-width="0.1" textLength="6.49" lengthAdjust="spacingAndGlyphs">is</text>
<text x="922.50" y="1327.20" font-size="12.1" fill="#333333" stroke="#333333" stroke-width="0.1" textLength="47.68" lengthAdjust="spacingAndGlyphs">divergence</text>
<text x="973.70" y="1327.20" font-size="12.1" fill="#333333" stroke="#333333" stroke-width="0.1" textLength="42.79" lengthAdjust="spacingAndGlyphs">according</text>
<text x="1019.20" y="1327.20" font-size="12.1" fill="#333333" stroke="#333333" stroke-width="0.1" textLength="8.37" lengthAdjust="spacingAndGlyphs">to</text>
<text x="1031.10" y="1327.20" font-size="12.1" fill="#333333" stroke="#333333" stroke-width="0.1" textLength="20.12" lengthAdjust="spacingAndGlyphs">both</text>
<text x="68.50" y="1342.50" font-size="12.1" fill="#333333" stroke="#333333" stroke-width="0.1" textLength="34.59" lengthAdjust="spacingAndGlyphs">metrics,</text>
<text x="106.98" y="1342.50" font-size="12.1" fill="#333333" stroke="#333333" stroke-width="0.1" textLength="18.96" lengthAdjust="spacingAndGlyphs">with</text>
<text x="128.60" y="1342.50" font-size="12.1" fill="#333333" stroke="#333333" stroke-width="0.1" textLength="37.05" lengthAdjust="spacingAndGlyphs">different</text>
<text x="169.50" y="1342.50" font-size="12.1" fill="#333333" stroke="#333333" stroke-width="0.1" textLength="51.88" lengthAdjust="spacingAndGlyphs">significance</text>
<text x="224.90" y="1342.50" font-size="12.1" fill="#333333" stroke="#333333" stroke-width="0.1" textLength="24.84" lengthAdjust="spacingAndGlyphs">levels</text>
<text x="253.00" y="1342.50" font-size="12.1" fill="#333333" stroke="#333333" stroke-width="0.1" textLength="6.99" lengthAdjust="spacingAndGlyphs">in</text>
<text x="262.40" y="1342.50" font-size="12.1" fill="#333333" stroke="#333333" stroke-width="0.1" textLength="55.81" lengthAdjust="spacingAndGlyphs">regressions:</text>
<text x="321.20" y="1342.50" font-size="12.1" fill="#333333" stroke="#333333" stroke-width="0.1" textLength="12.99" lengthAdjust="spacingAndGlyphs">the</text>
<text x="338.91" y="1342.50" font-size="12.1" fill="#333333" font-style="italic" stroke="#333333" stroke-width="0.1" textLength="44.60" lengthAdjust="spacingAndGlyphs">parameter</text>
<text x="387.60" y="1342.50" font-size="12.1" fill="#333333" font-style="italic" stroke="#333333" stroke-width="0.1" textLength="6.49" lengthAdjust="spacingAndGlyphs">is</text>
<text x="398.11" y="1342.50" font-size="12.1" fill="#333333" font-style="italic" stroke="#333333" stroke-width="0.1" textLength="33.17" lengthAdjust="spacingAndGlyphs">positive</text>
<text x="434.80" y="1342.50" font-size="12.1" fill="#333333" font-style="italic" stroke="#333333" stroke-width="0.1" textLength="7.29" lengthAdjust="spacingAndGlyphs">in</text>
<text x="445.60" y="1342.50" font-size="12.1" fill="#333333" font-style="italic" stroke="#333333" stroke-width="0.1" textLength="9.26" lengthAdjust="spacingAndGlyphs">all</text>
<text x="458.40" y="1342.50" font-size="12.1" fill="#333333" font-style="italic" stroke="#333333" stroke-width="0.1" textLength="29.20" lengthAdjust="spacingAndGlyphs">cases;</text>
<text x="490.60" y="1342.50" font-size="12.1" fill="#333333" font-style="italic" stroke="#333333" stroke-width="0.1" textLength="4.49" lengthAdjust="spacingAndGlyphs">it</text>
<text x="498.50" y="1342.50" font-size="12.1" fill="#333333" font-style="italic" stroke="#333333" stroke-width="0.1" textLength="6.84" lengthAdjust="spacingAndGlyphs">is</text>
<text x="508.60" y="1342.50" font-size="12.1" fill="#333333" font-style="italic" stroke="#333333" stroke-width="0.1" textLength="13.49" lengthAdjust="spacingAndGlyphs">not</text>
<text x="525.90" y="1342.50" font-size="12.1" fill="#333333" font-style="italic" stroke="#333333" stroke-width="0.1" textLength="50.18" lengthAdjust="spacingAndGlyphs">statistically</text>
<text x="580.20" y="1342.50" font-size="12.1" fill="#333333" font-style="italic" stroke="#333333" stroke-width="0.1" textLength="45.26" lengthAdjust="spacingAndGlyphs">significant</text>
<text x="629.30" y="1342.50" font-size="12.1" fill="#333333" font-style="italic" stroke="#333333" stroke-width="0.1" textLength="7.00" lengthAdjust="spacingAndGlyphs">in</text>
<text x="639.80" y="1342.50" font-size="12.1" fill="#333333" font-style="italic" stroke="#333333" stroke-width="0.1" textLength="12.99" lengthAdjust="spacingAndGlyphs">the</text>
<text x="656.30" y="1342.50" font-size="12.1" fill="#333333" font-style="italic" stroke="#333333" stroke-width="0.1" textLength="35.23" lengthAdjust="spacingAndGlyphs">ordinary</text>
<text x="695.60" y="1342.50" font-size="12.1" fill="#333333" font-style="italic" stroke="#333333" stroke-width="0.1" textLength="20.68" lengthAdjust="spacingAndGlyphs">least</text>
<text x="720.10" y="1342.50" font-size="12.1" fill="#333333" font-style="italic" stroke="#333333" stroke-width="0.1" textLength="34.14" lengthAdjust="spacingAndGlyphs">squares</text>
<text x="757.50" y="1342.50" font-size="12.1" fill="#333333" font-style="italic" stroke="#333333" stroke-width="0.1" textLength="65.97" lengthAdjust="spacingAndGlyphs">regression, but</text>
<text x="827.30" y="1342.50" font-size="12.1" fill="#333333" font-style="italic" stroke="#333333" stroke-width="0.1" textLength="4.49" lengthAdjust="spacingAndGlyphs">it</text>
<text x="835.20" y="1342.50" font-size="12.1" fill="#333333" font-style="italic" stroke="#333333" stroke-width="0.1" textLength="6.84" lengthAdjust="spacingAndGlyphs">is</text>
<text x="845.30" y="1342.50" font-size="12.1" fill="#333333" font-style="italic" stroke="#333333" stroke-width="0.1" textLength="49.89" lengthAdjust="spacingAndGlyphs">statistically</text>
<text x="899.30" y="1342.50" font-size="12.1" fill="#333333" font-style="italic" stroke="#333333" stroke-width="0.1" textLength="44.57" lengthAdjust="spacingAndGlyphs">significant</text>
<text x="947.70" y="1342.50" font-size="12.1" fill="#333333" font-style="italic" stroke="#333333" stroke-width="0.1" textLength="7.19" lengthAdjust="spacingAndGlyphs">in</text>
<text x="958.40" y="1342.50" font-size="12.1" fill="#333333" font-style="italic" stroke="#333333" stroke-width="0.1" textLength="13.38" lengthAdjust="spacingAndGlyphs">the</text>
<text x="975.30" y="1342.50" font-size="12.1" fill="#333333" font-style="italic" stroke="#333333" stroke-width="0.1" textLength="26.99" lengthAdjust="spacingAndGlyphs">robust</text>
<text x="1006.10" y="1342.50" font-size="12.1" fill="#333333" font-style="italic" stroke="#333333" stroke-width="0.1" textLength="46.08" lengthAdjust="spacingAndGlyphs">regression</text>
<text x="68.80" y="1357.70" font-size="12.1" fill="#333333" font-style="italic" stroke="#333333" stroke-width="0.1" textLength="33.79" lengthAdjust="spacingAndGlyphs">(p-value</text>
<text x="106.10" y="1357.70" font-size="12.1" fill="#333333" font-style="italic" stroke="#333333" stroke-width="0.1" textLength="27.11" lengthAdjust="spacingAndGlyphs">below</text>
<text x="137.60" y="1357.70" font-size="12.1" fill="#333333" font-style="italic" stroke="#333333" stroke-width="0.1" textLength="9.99" lengthAdjust="spacingAndGlyphs">10</text>
<text x="150.78" y="1357.70" font-size="12.1" fill="#333333" font-style="italic" stroke="#333333" stroke-width="0.1" textLength="34.64" lengthAdjust="spacingAndGlyphs">percent)</text>
<text x="188.70" y="1357.70" font-size="12.1" fill="#333333" font-style="italic" stroke="#333333" stroke-width="0.1" textLength="15.43" lengthAdjust="spacingAndGlyphs">and</text>
<text x="208.40" y="1357.70" font-size="12.1" fill="#333333" font-style="italic" stroke="#333333" stroke-width="0.1" textLength="13.38" lengthAdjust="spacingAndGlyphs">the</text>
<text x="225.30" y="1357.70" font-size="12.1" fill="#333333" font-style="italic" stroke="#333333" stroke-width="0.1" textLength="31.38" lengthAdjust="spacingAndGlyphs">median</text>
<text x="260.20" y="1357.70" font-size="12.1" fill="#333333" font-style="italic" stroke="#333333" stroke-width="0.1" textLength="83.37" lengthAdjust="spacingAndGlyphs">quintile regression</text>
<text x="347.10" y="1357.70" font-size="12.1" fill="#333333" font-style="italic" stroke="#333333" stroke-width="0.1" textLength="33.59" lengthAdjust="spacingAndGlyphs">(p-value</text>
<text x="384.20" y="1357.70" font-size="12.1" fill="#333333" font-style="italic" stroke="#333333" stroke-width="0.1" textLength="27.11" lengthAdjust="spacingAndGlyphs">below</text>
<text x="415.70" y="1357.70" font-size="12.1" fill="#333333" font-style="italic" stroke="#333333" stroke-width="0.1" textLength="5.00" lengthAdjust="spacingAndGlyphs">1</text>
<text x="423.28" y="1357.70" font-size="12.1" fill="#333333" font-style="italic" stroke="#333333" stroke-width="0.1" textLength="34.54" lengthAdjust="spacingAndGlyphs">percent)</text>
<text x="461.10" y="1357.70" font-size="12.1" fill="#333333" font-style="italic" stroke="#333333" stroke-width="0.1" textLength="15.52" lengthAdjust="spacingAndGlyphs">and</text>
<text x="480.90" y="1357.70" font-size="12.1" fill="#333333" font-style="italic" stroke="#333333" stroke-width="0.1" textLength="11.23" lengthAdjust="spacingAndGlyphs">for</text>
<text x="496.20" y="1357.70" font-size="12.1" fill="#333333" font-style="italic" stroke="#333333" stroke-width="0.1" textLength="12.69" lengthAdjust="spacingAndGlyphs">the</text>
<text x="512.40" y="1357.70" font-size="12.1" fill="#333333" font-style="italic" stroke="#333333" stroke-width="0.1" textLength="50.38" lengthAdjust="spacingAndGlyphs">comparison</text>
<text x="566.30" y="1357.70" font-size="12.1" fill="#333333" font-style="italic" stroke="#333333" stroke-width="0.1" textLength="37.87" lengthAdjust="spacingAndGlyphs">between</text>
<text x="607.70" y="1357.70" font-size="12.1" fill="#333333" font-style="italic" stroke="#333333" stroke-width="0.1" textLength="29.08" lengthAdjust="spacingAndGlyphs">human</text>
<text x="640.30" y="1357.70" font-size="12.1" fill="#333333" font-style="italic" stroke="#333333" stroke-width="0.1" textLength="55.78" lengthAdjust="spacingAndGlyphs">development</text>
<text x="699.90" y="1357.70" font-size="12.1" fill="#333333" font-style="italic" stroke="#333333" stroke-width="0.1" textLength="29.54" lengthAdjust="spacingAndGlyphs">groups</text>
<text x="732.70" y="1357.70" font-size="12.1" fill="#333333" font-style="italic" stroke="#333333" stroke-width="0.1" textLength="33.39" lengthAdjust="spacingAndGlyphs">(p-value</text>
<text x="769.60" y="1357.70" font-size="12.1" fill="#333333" font-style="italic" stroke="#333333" stroke-width="0.1" textLength="27.11" lengthAdjust="spacingAndGlyphs">below</text>
<text x="801.10" y="1357.70" font-size="12.1" fill="#333333" font-style="italic" stroke="#333333" stroke-width="0.1" textLength="47.93" lengthAdjust="spacingAndGlyphs">5 percent).</text>
<text transform="translate(68.50 1372.90) scale(0.8255 1)" font-size="12.1" fill="#333333" stroke="#333333" stroke-width="0.35" letter-spacing="0.948">Source:</text>
<text x="111.30" y="1372.90" font-size="12.1" fill="#333333" stroke="#333333" stroke-width="0.1" textLength="32.61" lengthAdjust="spacingAndGlyphs">Human</text>
<text x="146.60" y="1372.90" font-size="12.1" fill="#333333" stroke="#333333" stroke-width="0.1" textLength="55.80" lengthAdjust="spacingAndGlyphs">Development</text>
<text x="206.20" y="1372.90" font-size="12.1" fill="#333333" stroke="#333333" stroke-width="0.1" textLength="28.79" lengthAdjust="spacingAndGlyphs">Report</text>
<text x="238.80" y="1372.90" font-size="12.1" fill="#333333" stroke="#333333" stroke-width="0.1" textLength="24.59" lengthAdjust="spacingAndGlyphs">Office</text>
<text x="266.90" y="1372.90" font-size="12.1" fill="#333333" stroke="#333333" stroke-width="0.1" textLength="52.84" lengthAdjust="spacingAndGlyphs">calculations</text>
<text x="323.00" y="1372.90" font-size="12.1" fill="#333333" stroke="#333333" stroke-width="0.1" textLength="25.87" lengthAdjust="spacingAndGlyphs">based</text>
<text x="351.60" y="1372.90" font-size="12.1" fill="#333333" stroke="#333333" stroke-width="0.1" textLength="10.78" lengthAdjust="spacingAndGlyphs">on</text>
<text x="365.10" y="1372.90" font-size="12.1" fill="#333333" stroke="#333333" stroke-width="0.1" textLength="56.87" lengthAdjust="spacingAndGlyphs">country-level</text>
<text x="424.70" y="1372.90" font-size="12.1" fill="#333333" stroke="#333333" stroke-width="0.1" textLength="19.47" lengthAdjust="spacingAndGlyphs">data</text>
<text x="447.70" y="1372.90" font-size="12.1" fill="#333333" stroke="#333333" stroke-width="0.1" textLength="20.96" lengthAdjust="spacingAndGlyphs">from</text>
<text x="471.90" y="1372.90" font-size="12.1" fill="#333333" stroke="#333333" stroke-width="0.1" textLength="13.38" lengthAdjust="spacingAndGlyphs">the</text>
<text x="488.80" y="1372.90" font-size="12.1" fill="#333333" stroke="#333333" stroke-width="0.1" textLength="29.92" lengthAdjust="spacingAndGlyphs">United</text>
<text x="521.40" y="1372.90" font-size="12.1" fill="#333333" stroke="#333333" stroke-width="0.1" textLength="91.20" lengthAdjust="spacingAndGlyphs">Nations Educational,</text>
<text x="615.60" y="1372.90" font-size="12.1" fill="#333333" stroke="#333333" stroke-width="0.1" textLength="40.14" lengthAdjust="spacingAndGlyphs">Scientific</text>
<text x="659.00" y="1372.90" font-size="12.1" fill="#333333" stroke="#333333" stroke-width="0.1" textLength="16.39" lengthAdjust="spacingAndGlyphs">and</text>
<text x="678.10" y="1372.90" font-size="12.1" fill="#333333" stroke="#333333" stroke-width="0.1" textLength="35.48" lengthAdjust="spacingAndGlyphs">Cultural</text>
<text x="716.30" y="1372.90" font-size="12.1" fill="#333333" stroke="#333333" stroke-width="0.1" textLength="55.79" lengthAdjust="spacingAndGlyphs">Organization</text>
<text x="773.94" y="1372.90" font-size="12.1" fill="#333333" stroke="#333333" stroke-width="0.1" textLength="36.53" lengthAdjust="spacingAndGlyphs">Institute</text>
<text x="814.00" y="1372.90" font-size="12.1" fill="#333333" stroke="#333333" stroke-width="0.1" textLength="11.82" lengthAdjust="spacingAndGlyphs">for</text>
<text x="829.10" y="1372.90" font-size="12.1" fill="#333333" stroke="#333333" stroke-width="0.1" textLength="43.60" lengthAdjust="spacingAndGlyphs">Statistics.</text>
<rect x="68" y="1385.8" width="1003" height="1.2" fill="#4b6178"/>
<text x="68.00" y="1458.10" font-size="15.2" fill="#3c3c3c" stroke="#3c3c3c" stroke-width="0.35" textLength="13.46" lengthAdjust="spacingAndGlyphs">46</text>
<rect x="95.4" y="1447.0" width="1.5" height="14.2" fill="#3c3c3c"/>
<text x="110.87" y="1458.10" font-size="15.2" fill="#3c3c3c" stroke="#3c3c3c" stroke-width="0.35" textLength="46.44" lengthAdjust="spacingAndGlyphs">HUMAN</text>
<text x="160.35" y="1458.10" font-size="15.2" fill="#3c3c3c" stroke="#3c3c3c" stroke-width="0.35" textLength="85.96" lengthAdjust="spacingAndGlyphs">DEVELOPMENT</text>
<text x="250.00" y="1458.10" font-size="15.2" fill="#3c3c3c" stroke="#3c3c3c" stroke-width="0.35" textLength="43.99" lengthAdjust="spacingAndGlyphs">REPORT</text>
<text x="297.80" y="1458.10" font-size="15.2" fill="#222222" font-weight="700" stroke="#222222" stroke-width="0.62" textLength="27.46" lengthAdjust="spacingAndGlyphs">2019</text>
</svg>
</body>
</html>
